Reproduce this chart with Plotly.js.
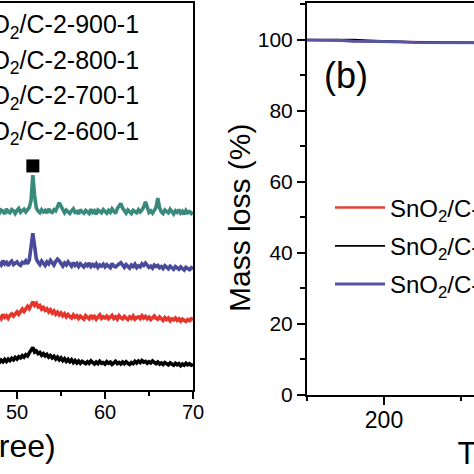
<!DOCTYPE html>
<html>
<head>
<meta charset="utf-8">
<script src="https://cdn.plot.ly/plotly-3.0.1.min.js"></script>
<style>
  html, body { margin: 0; padding: 0; width: 474px; height: 474px; overflow: hidden; background: #fff; }
  #fig { position: absolute; left: -287px; top: -20px; width: 1153px; height: 494px; }
</style>
</head>
<body>
<div id="fig"></div>
<script>
// ---- (a) XRD patterns: 2θ grid starts at 44° with a 0.2° step ----
const twoThetaStart = 44;
const twoThetaStep = 0.2;

const xrd900 = [
  46.5, 45.6, 46.8, 46.0, 45.4, 46.9, 46.2, 45.7, 46.6, 45.9,
  46.4, 47.0, 45.8, 46.3, 45.5, 46.7, 46.1, 45.6, 46.9, 46.0,
  45.7, 46.5, 46.2, 45.5, 46.8, 46.0, 45.8, 46.6, 46.3, 45.6,
  46.4, 46.9, 45.9, 46.2, 46.7, 46.0, 46.5, 47.2, 49.0, 55.5,
  50.2, 47.0, 46.2, 45.8, 46.6, 46.0, 46.4, 45.7, 46.8, 46.1,
  45.9, 46.6, 46.3, 47.2, 48.4, 47.5, 46.4, 45.8, 46.5, 46.0,
  45.6, 46.3, 46.8, 45.9, 46.1, 45.5, 46.6, 46.0, 45.7, 46.4,
  46.1, 45.6, 46.7, 45.9, 46.3, 45.4, 46.5, 46.0, 45.8, 46.6,
  46.2, 45.7, 46.4, 45.9, 46.8, 46.1, 45.6, 46.9, 47.4, 48.2,
  47.0, 46.3, 45.7, 46.5, 46.0, 45.6, 46.4, 46.1, 45.8, 46.6,
  46.0, 46.5, 47.3, 48.6, 47.0, 45.9, 46.3, 45.7, 46.4, 47.2,
  49.6, 47.1, 46.0, 45.6, 46.5, 46.2, 45.8, 46.7, 46.1, 45.5,
  46.3, 45.9, 46.6, 45.7, 46.2, 45.4, 46.4, 45.8, 46.1, 45.6, 46.0
];

const xrd800 = [
  33.2, 32.4, 33.6, 32.8, 32.1, 33.4, 32.7, 33.0, 32.3, 33.5,
  32.6, 33.1, 32.2, 33.3, 32.9, 32.4, 33.6, 32.5, 32.0, 33.2,
  32.8, 32.3, 33.4, 32.6, 33.0, 32.1, 32.9, 33.3, 32.4, 32.7,
  33.1, 32.5, 32.2, 33.0, 32.8, 33.4, 32.6, 33.6, 36.8, 40.5,
  37.2, 33.8, 33.0, 32.4, 33.3, 32.7, 32.2, 33.1, 32.6, 33.5,
  32.9, 32.3, 33.2, 33.8, 33.4, 32.6, 32.0, 32.8, 32.3, 33.1,
  32.5, 32.0, 32.9, 32.2, 32.7, 31.9, 32.6, 32.3, 31.8, 32.5,
  32.1, 32.8, 31.9, 32.4, 32.0, 32.6, 31.7, 32.3, 32.0, 32.5,
  31.8, 32.4, 32.1, 31.6, 32.7, 32.0, 31.8, 32.3, 32.6, 32.9,
  32.2, 31.7, 32.4, 32.0, 31.5, 32.3, 31.9, 32.5, 31.6, 32.1,
  31.8, 32.6, 32.2, 32.8, 32.4, 31.7, 32.0, 31.5, 32.3, 31.9,
  32.2, 31.6, 31.9, 31.4, 32.1, 31.7, 31.3, 32.0, 31.6, 31.2,
  31.9, 31.5, 31.2, 31.8, 31.4, 31.0, 31.7, 31.3, 31.1, 31.6, 31.2
];

const xrd700 = [
  19.3, 18.5, 19.6, 18.8, 18.2, 19.4, 18.7, 19.0, 18.4, 19.5,
  18.6, 19.2, 18.3, 19.4, 18.9, 18.5, 19.6, 18.7, 18.2, 19.3,
  18.9, 18.4, 19.5, 18.8, 19.2, 18.5, 19.3, 19.7, 19.1, 19.8,
  20.2, 19.6, 20.5, 20.9, 20.3, 21.2, 21.6, 21.0, 22.2, 22.8,
  21.9, 22.4, 21.5, 21.8, 20.9, 21.3, 20.6, 21.0, 20.2, 20.7,
  19.9, 20.4, 19.6, 20.1, 19.4, 19.9, 19.2, 19.7, 18.9, 19.5,
  19.0, 18.6, 19.4, 18.8, 19.2, 18.5, 19.1, 18.7, 18.3, 19.2,
  18.8, 18.4, 19.3, 18.6, 19.0, 18.3, 18.9, 19.4, 18.5, 18.9,
  18.6, 19.1, 18.4, 18.8, 19.3, 18.5, 18.9, 18.3, 19.2, 18.7,
  18.4, 19.0, 18.6, 18.2, 18.9, 18.5, 19.1, 18.3, 18.7, 18.9,
  18.5, 19.2, 18.6, 19.0, 18.4, 18.8, 18.2, 18.7, 19.1, 18.5,
  18.3, 18.9, 18.4, 18.0, 18.7, 18.2, 18.6, 17.9, 18.4, 18.1,
  18.6, 18.0, 18.4, 17.8, 18.3, 18.0, 17.7, 18.2, 17.9, 18.4, 18.1
];

const xrd600 = [
  7.5, 6.8, 7.8, 7.1, 6.6, 7.7, 7.0, 7.3, 6.7, 7.6,
  6.9, 7.4, 6.6, 7.6, 7.2, 6.8, 7.8, 7.0, 6.5, 7.4,
  7.1, 7.7, 7.3, 7.9, 7.4, 8.0, 7.6, 8.2, 7.8, 8.4,
  8.0, 8.6, 8.3, 8.9, 8.5, 9.1, 8.8, 9.6, 10.2, 11.0,
  9.8, 10.1, 9.4, 9.7, 9.0, 9.4, 8.8, 9.2, 8.5, 8.9,
  8.3, 8.7, 8.0, 8.5, 7.8, 8.3, 7.6, 8.1, 7.4, 7.9,
  7.3, 7.8, 7.1, 7.6, 7.0, 7.5, 6.9, 7.4, 7.1, 6.8,
  7.3, 6.9, 7.5, 7.0, 6.7, 7.2, 6.8, 7.4, 6.9, 7.1,
  6.7, 7.3, 6.9, 7.2, 6.6, 7.0, 7.4, 6.8, 7.1, 6.7,
  7.2, 6.8, 7.3, 6.9, 6.6, 7.1, 6.8, 7.4, 7.0, 7.5,
  7.1, 7.6, 7.2, 7.4, 6.9, 7.3, 7.0, 7.5, 7.1, 6.8,
  7.2, 6.7, 7.0, 6.6, 7.1, 6.8, 6.5, 7.0, 6.7, 6.4,
  6.9, 6.5, 6.8, 6.3, 6.7, 6.4, 6.9, 6.5, 6.8, 6.4, 6.6
];

// SnO2 reflection marker (■) above the 51.8° peak
const phaseMarkX = [51.8];
const phaseMarkY = [57.9];

const xrdNames = [
  'SnO<sub>2</sub>/C-2-900-1',
  'SnO<sub>2</sub>/C-2-800-1',
  'SnO<sub>2</sub>/C-2-700-1',
  'SnO<sub>2</sub>/C-2-600-1'
];

// ---- (b) TGA curves ----
const tgaTemp = [100, 120, 140, 160, 180, 200, 220, 240, 260, 280, 300, 320, 340];
const tgaRed   = [100.0, 99.95, 99.85, 99.7, 99.6, 99.5, 99.45, 99.35, 99.3, 99.25, 99.2, 99.15, 99.1];
const tgaBlack = [100.0, 100.1, 100.1, 100.1, 99.9, 99.7, 99.6, 99.4, 99.35, 99.3, 99.25, 99.2, 99.2];
const tgaBlue  = [100.0, 100.0, 99.9, 99.6, 99.6, 99.55, 99.5, 99.3, 99.3, 99.25, 99.25, 99.2, 99.2];
const tgaNames = [
  'SnO<sub>2</sub>/C-2-700-1',
  'SnO<sub>2</sub>/C-2-600-1',
  'SnO<sub>2</sub>/C-2-800-1'
];

const cTeal = '#3a8a7c';
const cBlue = '#4a4a9a';
const cRed  = '#e8352c';
const cBlack = '#000000';

function xrdTrace(y, name, color) {
  return {
    type: 'scatter', mode: 'lines',
    x0: twoThetaStart, dx: twoThetaStep, y: y,
    name: name, xaxis: 'x', yaxis: 'y', legend: 'legend',
    line: { color: color, width: 3.6 }
  };
}

function tgaTrace(y, name, color, width, group) {
  return {
    type: 'scatter', mode: 'lines', x: tgaTemp, y: y, name: name,
    xaxis: 'x2', yaxis: 'y2', legend: 'legend2', legendgroup: group,
    line: { color: color, width: width }
  };
}

const traces = [
  xrdTrace(xrd900, xrdNames[0], cTeal),
  xrdTrace(xrd800, xrdNames[1], cBlue),
  xrdTrace(xrd700, xrdNames[2], cRed),
  xrdTrace(xrd600, xrdNames[3], cBlack),
  {
    type: 'scatter', mode: 'markers', x: phaseMarkX, y: phaseMarkY,
    xaxis: 'x', yaxis: 'y', showlegend: false,
    marker: { symbol: 'square', size: 13, color: '#000' }
  },
  tgaTrace(tgaRed, tgaNames[0], '#e2403a', 2.5, 'g1'),
  tgaTrace(tgaBlack, tgaNames[1], cBlack, 1.8, 'g2'),
  tgaTrace(tgaBlue, tgaNames[2], '#5656a2', 3, 'g3')
];

const font = 'Liberation Sans, Arial, sans-serif';
const axisCommon = {
  showline: true, linecolor: '#000', linewidth: 2, mirror: true,
  showgrid: false, zeroline: false, tickcolor: '#000', tickwidth: 2
};

const layout = {
  width: 1153, height: 494,
  margin: { l: 40, r: 20, t: 23, b: 79 },
  paper_bgcolor: '#fff', plot_bgcolor: '#fff',
  font: { family: font, color: '#000' },
  showlegend: true,
  xaxis: Object.assign({}, axisCommon, {
    domain: [0, 0.40256], range: [20, 70], anchor: 'y',
    tick0: 0, dtick: 10, ticks: 'outside', ticklen: 7, ticklabelstandoff: -4,
    minor: { dtick: 5, ticks: 'outside', ticklen: 4, tickwidth: 2, tickcolor: '#000' },
    tickfont: { size: 20, family: font },
    title: { text: '2θ (degree)', font: { size: 32, family: font }, standoff: 13 }
  }),
  yaxis: Object.assign({}, axisCommon, {
    domain: [0.012755, 1], range: [0, 100], anchor: 'x',
    ticks: '', showticklabels: false
  }),
  xaxis2: Object.assign({}, axisCommon, {
    domain: [0.50686, 1], range: [100, 800], anchor: 'y2',
    tick0: 0, dtick: 200, ticks: 'outside', ticklen: 8, ticklabelstandoff: -5,
    minor: { dtick: 100, ticks: 'outside', ticklen: 4, tickwidth: 2, tickcolor: '#000' },
    tickfont: { size: 23, family: font },
    title: { text: 'Temperature (°C)', font: { size: 31, family: font }, standoff: 11 }
  }),
  yaxis2: Object.assign({}, axisCommon, {
    domain: [0, 1], range: [0, 110.4], anchor: 'x2',
    tick0: 0, dtick: 20, ticks: 'outside', ticklen: 8,
    minor: { dtick: 10, ticks: 'outside', ticklen: 5, tickwidth: 2, tickcolor: '#000' },
    tickfont: { size: 21, family: font }
  }),
  legend: {
    x: 0.15263, y: 1.0054, xanchor: 'left', yanchor: 'top',
    bgcolor: 'rgba(0,0,0,0)', borderwidth: 0,
    font: { size: 25, family: font, color: '#000' }
  },
  legend2: {
    x: 0.5279, y: 0.5345, xanchor: 'left', yanchor: 'top',
    bgcolor: 'rgba(0,0,0,0)', borderwidth: 0, itemwidth: 50, tracegroupgap: 4,
    font: { size: 24, family: font, color: '#000' }
  },
  annotations: [
    {
      text: 'Mass loss (%)', textangle: -90, showarrow: false,
      xref: 'paper', yref: 'paper', x: 0.44557, y: 0.4516,
      xanchor: 'center', yanchor: 'middle',
      font: { size: 30, family: font, color: '#000' }
    },
    {
      text: '(b)', showarrow: false,
      xref: 'paper', yref: 'paper', x: 0.54254, y: 0.8138,
      xanchor: 'center', yanchor: 'middle',
      font: { size: 36, family: font, color: '#000' }
    }
  ]
};

Plotly.newPlot('fig', traces, layout, { displayModeBar: false, staticPlot: true });
</script>
</body>
</html>
